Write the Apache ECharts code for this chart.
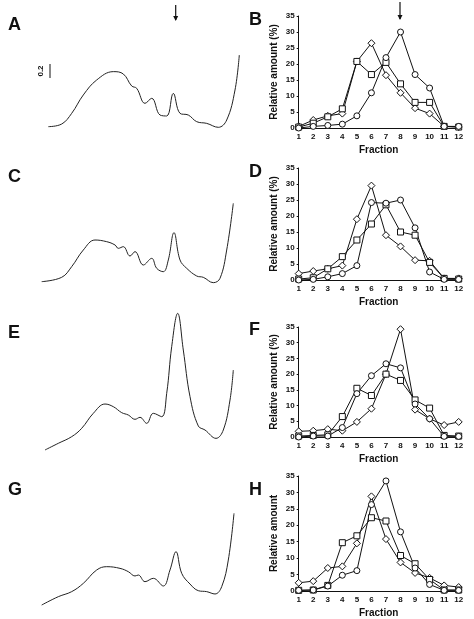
<!DOCTYPE html>
<html>
<head>
<meta charset="utf-8">
<script src="https://cdn.jsdelivr.net/npm/echarts@6/dist/echarts.min.js"></script>
<style>
  html, body { margin: 0; padding: 0; background: #fff; }
  #chart { width: 474px; height: 619px; }
</style>
</head>
<body>
<div id="chart"></div>
<script>
// density profiles: [position, absorbance]
const profileA = [[48.3,.389],[61.7,.433],[71.7,.611],[83.3,.917],[96.7,1.167],[113.3,1.306],[123.3,1.267],[131.7,1.067],[136.7,1.028],[145,.778],[151.7,.861],[160,.583],[166.7,.567],[173.3,.944],[180,.611],[188.3,.583],[196.7,.472],[206.7,.444],[218.3,.378],[226.7,.5],[235,1.0],[239.3,1.583]]
const profileC = [[41.7,.306],[61.7,.378],[71.7,.556],[83.3,.833],[95,1.0],[106.7,.972],[115,.917],[118.3,.861],[123.3,.889],[130,.733],[135,.806],[143.3,.583],[151.7,.694],[156.7,.528],[163.3,.472],[168.3,.667],[174,1.122],[180,.667],[186.7,.528],[196.7,.4],[203.3,.378],[213.3,.289],[220,.361],[226.7,.833],[233.3,1.611]]
const profileE = [[45,.167],[58.3,.278],[71.7,.389],[81.7,.528],[93.3,.778],[105,.933],[113.3,.889],[121.7,.789],[128.3,.75],[135,.678],[140,.711],[146.7,.611],[153.3,.778],[161.7,.722],[166.7,1.111],[171.7,1.889],[177.7,2.444],[183.3,1.833],[190,1.056],[198.3,.567],[205,.5],[216,.361],[223.3,.5],[230,1.0],[233.3,1.5]]
const profileG = [[41.7,.233],[58.3,.372],[71.7,.456],[83.3,.594],[96.7,.817],[106.7,.872],[120,.844],[128.3,.789],[135,.717],[138.3,.733],[145,.622],[153.3,.678],[163.3,.55],[170,.817],[176,1.122],[181.7,.761],[190,.583],[198.3,.472],[206.7,.456],[215,.417],[221.7,.539],[228.3,.983],[234,1.761]]

const fractions = [1,2,3,4,5,6,7,8,9,10,11,12]
const yTicks = [0,5,10,15,20,25,30,35]

const bDiamond = [0.5,2.5,3.8,4.5,20.8,26.5,16.5,11,6.2,4.5,0.5,0.3]
const bSquare = [0.3,1.5,3.5,6,20.8,16.7,20.5,13.8,8,8,0.5,0.3]
const bCircle = [0,0.5,0.8,1.2,3.8,11,22,30,16.7,12.5,0.5,0.5]

const dDiamond = [2,2.8,3.5,4.5,19,29.5,14,10.5,6.2,6,0.5,0.5]
const dSquare = [0.3,0.7,3.5,7.3,12.5,17.5,23.5,15,14,5.5,0.5,0.3]
const dCircle = [0,0.2,1,2,4.5,24.2,24,25,16.3,2.5,0.2,0.2]

const fDiamond = [1.8,2,2.5,2,4.8,9,20,34.3,8.7,5.8,3.8,4.8]
const fSquare = [0.3,0.5,0.7,6.5,15.5,13.2,20,18,11.8,9.2,0.5,0.3]
const fCircle = [0,0.3,0.3,3,13.8,19.5,23.3,22,10.5,5.8,0.2,0.2]

const hDiamond = [2.5,3,7,7.5,14.5,28.8,15.8,8.7,5.5,4,1.7,1.2]
const hSquare = [0.2,0.3,1.7,14.7,16.8,22.3,21.3,10.8,8.3,3.5,0.3,0.3]
const hCircle = [0.2,0.3,1.5,4.8,6.2,26.3,33.5,18,7,2,0.2,0.2]

const font = 'Liberation Sans'
const chart = echarts.init(document.getElementById('chart'))

const leftPanels = [
  { data: profileA, top: 0, h: 150 },
  { data: profileC, top: 150, h: 150 },
  { data: profileE, top: 300, h: 160 },
  { data: profileG, top: 460, h: 159 }
]
const rightPanels = [
  { sets: [bDiamond, bSquare, bCircle], top: 16, h: 112, name: 'Relative amount (%)' },
  { sets: [dDiamond, dSquare, dCircle], top: 168, h: 112, name: 'Relative amount (%)' },
  { sets: [fDiamond, fSquare, fCircle], top: 327, h: 110, name: 'Relative amount (%)' },
  { sets: [hDiamond, hSquare, hCircle], top: 476, h: 121, name: 'Relative amount' }
]
const symbols = ['diamond', 'rect', 'circle']

let grid = [], xAxis = [], yAxis = [], series = []

leftPanels.forEach((p, i) => {
  grid.push({ left: 0, width: 250, top: p.top, height: p.h })
  xAxis.push({ gridIndex: i, type: 'value', min: 0, max: 250, show: false })
  yAxis.push({ gridIndex: i, type: 'value', min: 0, max: p.h / 60, show: false })
  series.push({
    type: 'line', xAxisIndex: i, yAxisIndex: i, data: p.data, smooth: 0.4,
    showSymbol: false, lineStyle: { color: '#222', width: 1 }, silent: true
  })
})

rightPanels.forEach((p, j) => {
  const i = j + 4
  grid.push({ left: 298.7, width: 160, top: p.top, height: p.h })
  xAxis.push({
    gridIndex: i, type: 'value', min: 1, max: 12, interval: 1,
    name: 'Fraction', nameLocation: 'middle', nameGap: 17,
    nameTextStyle: { fontFamily: font, fontWeight: 'bold', fontSize: 10, color: '#111' },
    axisLine: { onZero: false, lineStyle: { color: '#111' } },
    axisTick: { show: false }, splitLine: { show: false },
    axisLabel: { fontFamily: font, fontWeight: 'bold', fontSize: 8, color: '#111', margin: 5 }
  })
  yAxis.push({
    gridIndex: i, type: 'value', min: 0, max: 35, interval: 5,
    name: p.name, nameLocation: 'middle', nameGap: 19,
    nameTextStyle: { fontFamily: font, fontWeight: 'bold', fontSize: 10, color: '#111' },
    axisLine: { show: true, lineStyle: { color: '#111' } },
    axisTick: { show: true, length: 2, inside: false, lineStyle: { color: '#111' } },
    splitLine: { show: false },
    axisLabel: { fontFamily: font, fontWeight: 'bold', fontSize: 8, color: '#111', margin: 4 }
  })
  p.sets.forEach((vals, k) => {
    series.push({
      type: 'line', xAxisIndex: i, yAxisIndex: i,
      data: fractions.map((f, n) => [f, vals[n]]),
      symbol: symbols[k], symbolSize: k === 0 ? 7 : 6,
      itemStyle: { color: '#fff', borderColor: '#111', borderWidth: 1 },
      lineStyle: { color: '#111', width: 1 }, silent: true
    })
  })
})

const letter = (t, x, y) => ({
  type: 'text', left: x, top: y,
  style: { text: t, font: 'bold 18px "Liberation Sans"', fill: '#111' }
})
const arrow = (x, y1, y2) => ([
  { type: 'line', shape: { x1: x, y1: y1, x2: x, y2: y2 - 1 }, style: { stroke: '#111', lineWidth: 1.2 } },
  { type: 'polygon', shape: { points: [[x - 2.5, y2 - 5], [x + 2.5, y2 - 5], [x, y2]] }, style: { fill: '#111' } }
])

chart.setOption({
  animation: false,
  grid, xAxis, yAxis, series,
  graphic: [
    letter('A', 8, 16), letter('B', 249, 11),
    letter('C', 8, 168), letter('D', 249, 163),
    letter('E', 8, 324), letter('F', 249, 321),
    letter('G', 8, 481), letter('H', 249, 481),
    ...arrow(175.7, 5, 21),
    ...arrow(400, 2, 20),
    { type: 'line', shape: { x1: 50, y1: 64, x2: 50, y2: 78 }, style: { stroke: '#111', lineWidth: 1 } },
    { type: 'text', x: 41, y: 71, rotation: Math.PI / 2, style: { text: '0.2', font: 'bold 8px "Liberation Sans"', fill: '#111', align: 'center', verticalAlign: 'middle' } }
  ]
})
</script>
</body>
</html>
